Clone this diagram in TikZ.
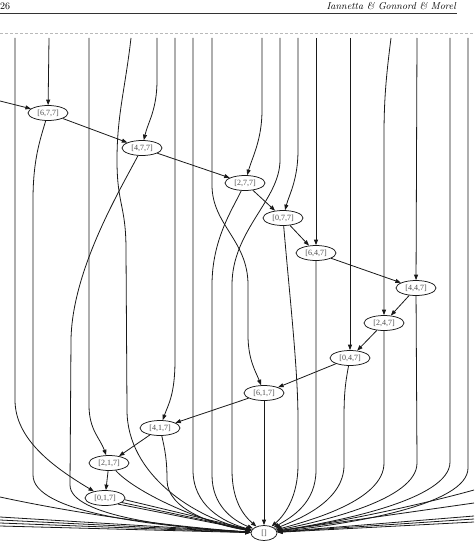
\documentclass[tikz,border=0pt]{standalone}
\usepackage{fontspec}
\newfontfamily\labfont{Liberation Serif}
\usetikzlibrary{arrows.meta,shapes.geometric}
\begin{document}
\begin{tikzpicture}[x=1pt,y=-1pt,
  st/.style={draw=black!90,line width=0.75pt,ellipse,minimum width=40pt,minimum height=15pt,inner sep=0pt,
    font=\labfont\fontsize{8}{9}\selectfont,text=black!70},
  e/.style={draw=black!90,line width=0.8pt,-{Triangle[length=5.5pt,width=4pt]}},
  hdr/.style={font=\fontsize{10}{12}\selectfont,inner sep=0pt}]
\useasboundingbox (0,0) rectangle (474,543);
% header
\node[hdr,anchor=base west] (pg) at (0,10) {26};
\node[hdr,anchor=base east,font=\itshape\fontsize{10}{12}\selectfont] (hd) at (456,10) {Iannetta \& Gonnord \& Morel};
\draw[line width=0.8pt,black!80] (0,13.5) -- (457,13.5);
\draw[gray!55,line width=0.5pt,dash pattern=on 3pt off 2pt] (0,33) -- (474,33);
% nodes
\node[st] (n677) at (48,113) {[6,7,7]};
\node[st] (n477) at (142,148) {[4,7,7]};
\node[st] (n277) at (245,183) {[2,7,7]};
\node[st] (n077) at (283,218) {[0,7,7]};
\node[st] (n647) at (316,253) {[6,4,7]};
\node[st] (n447) at (416,288) {[4,4,7]};
\node[st] (n247) at (384,323) {[2,4,7]};
\node[st] (n047) at (350,358) {[0,4,7]};
\node[st] (n617) at (264,393) {[6,1,7]};
\node[st] (n417) at (160,428) {[4,1,7]};
\node[st] (n217) at (109,463) {[2,1,7]};
\node[st] (n017) at (105,498) {[0,1,7]};
\node[st,minimum width=26pt] (bot) at (264,533) {[]};
% free ends
\coordinate (inL) at (0,101);
\coordinate (t15) at (15,38);
\coordinate (t49) at (49,38);
\coordinate (t89) at (89,38);
\coordinate (t131) at (131,38);
\coordinate (t157) at (157,38);
\coordinate (t175) at (175,38);
\coordinate (t193) at (193,38);
\coordinate (t212) at (212,38);
\coordinate (t262) at (262,38);
\coordinate (t280) at (280,38);
\coordinate (t298) at (298,38);
\coordinate (t316) at (316,38);
\coordinate (t350) at (350,38);
\coordinate (t391) at (391,38);
\coordinate (t417) at (417,38);
\coordinate (t450) at (450,38);
\coordinate (t468) at (468,38);
\coordinate (L1) at (0,497);
\coordinate (L2) at (0,517);
\coordinate (L3) at (0,520);
\coordinate (L4) at (0,523);
\coordinate (L5) at (0,526);
\coordinate (R1) at (474,490);
\coordinate (R2) at (474,503);
\coordinate (R3) at (474,516);
\coordinate (R4) at (474,519);
\coordinate (R5) at (474,522);
% chain
\draw[e] (inL) -- (n677);
\draw[e] (n677) -- (n477);
\draw[e] (n477) -- (n277);
\draw[e] (n277) -- (n077);
\draw[e] (n077) -- (n647);
\draw[e] (n647) -- (n447);
\draw[e] (n447) -- (n247);
\draw[e] (n247) -- (n047);
\draw[e] (n047) -- (n617);
\draw[e] (n617) -- (n417);
\draw[e] (n417) -- (n217);
\draw[e] (n217) -- (n017);
% lines from the top
\draw[e] (t15) -- (15,400) .. controls (15,440) and (55,468) .. (n017);
\draw[e] (t49) -- (n677);
\draw[e] (t89) -- (89,405) .. controls (89,430) and (100,438) .. (n217);
\draw[e] (t131) .. controls (125,90) and (117,115) .. (117,160) .. controls (117,205) and (126,205) .. (126,250) -- (127,410) .. controls (127,475) and (195,518) .. (bot);
\draw[e] (t157) -- (157,80) .. controls (157,110) and (148,122) .. (n477);
\draw[e] (t175) -- (175,360) .. controls (175,395) and (168,405) .. (n417);
\draw[e] (t193) -- (193,470) .. controls (193,505) and (222,522) .. (bot);
\draw[e] (t212) -- (212,185) .. controls (212,225) and (248,240) .. (248,285) -- (248,335) .. controls (248,360) and (256,372) .. (n617);
\draw[e] (t262) -- (262,110) .. controls (262,140) and (252,158) .. (n277);
\draw[e] (t280) -- (280,160) .. controls (280,200) and (232,230) .. (232,285) -- (232,470) .. controls (232,500) and (243,515) .. (bot);
\draw[e] (t298) -- (298,150) .. controls (298,180) and (289,195) .. (n077);
\draw[e] (t316) -- (n647);
\draw[e] (t350) -- (n047);
\draw[e] (t391) .. controls (387,70) and (384,95) .. (384,135) -- (n247);
\draw[e] (t417) -- (n447);
\draw[e] (t450) -- (450,462) .. controls (450,500) and (335,522) .. (bot);
\draw[e] (t468) -- (468,468) .. controls (468,505) and (350,524) .. (bot);
% lines from the nodes to the bottom
\draw[e] (n677) .. controls (40,140) and (33,160) .. (33,200) -- (33,475) .. controls (33,512) and (150,526) .. (bot);
\draw[e] (n477) .. controls (120,190) and (72,270) .. (71,340) -- (70,485) .. controls (70,516) and (175,528) .. (bot);
\draw[e] (n277) .. controls (232,210) and (212,240) .. (212,285) -- (212,475) .. controls (212,505) and (232,520) .. (bot);
\draw[e] (n077) .. controls (290,300) and (298,370) .. (298,420) -- (298,465) .. controls (298,495) and (286,514) .. (bot);
\draw[e] (n647) -- (316,470) .. controls (316,503) and (292,517) .. (bot);
\draw[e] (n447) -- (417,463) .. controls (417,500) and (322,521) .. (bot);
\draw[e] (n247) -- (384,463) .. controls (384,500) and (312,520) .. (bot);
\draw[e] (n047) .. controls (345,385) and (344,395) .. (344,420) -- (344,465) .. controls (344,500) and (302,518) .. (bot);
\draw[e] (n617) -- (bot);
\draw[e] (n417) .. controls (165,450) and (167,460) .. (167,480) .. controls (167,510) and (215,525) .. (bot);
\draw[e] (n217) .. controls (135,492) and (200,522) .. (bot);
\draw[e] (n017.-5) -- (bot);
\draw[e] (n017.-15) -- (bot);
\draw[e] (n017.-25) -- (bot);
% lines entering from outside
\draw[e] (L1) .. controls (60,510) and (150,525) .. (bot);
\draw[e] (L2) -- (bot);
\draw[e] (L3) -- (bot);
\draw[e] (L4) -- (bot);
\draw[e] (L5) -- (bot);
\draw[e] (R1) .. controls (420,505) and (340,522) .. (bot);
\draw[e] (R2) -- (bot);
\draw[e] (R3) -- (bot);
\draw[e] (R4) -- (bot);
\draw[e] (R5) -- (bot);
\end{tikzpicture}
\end{document}
